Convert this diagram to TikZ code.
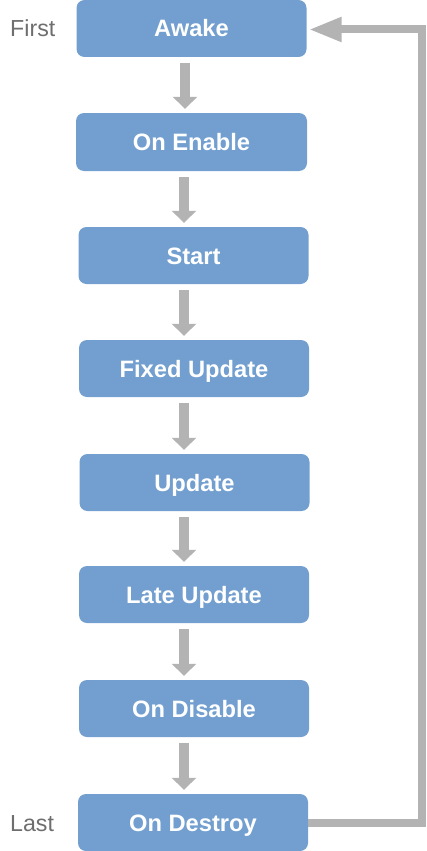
\documentclass[tikz,border=0pt]{standalone}
\usepackage{fontspec}
\setmainfont{Liberation Sans}
\usetikzlibrary{arrows.meta,calc}
\definecolor{boxblue}{HTML}{729FCF}
\definecolor{arrgray}{HTML}{B3B3B3}
\definecolor{labgray}{HTML}{6E6E6E}
\begin{document}
\begin{tikzpicture}[x=1pt,y=-1pt,
 stage/.style={draw=none, fill=boxblue, rounded corners=8pt, minimum width=230pt, minimum height=57pt, inner sep=0pt, text=white, font=\fontsize{23.7}{28}\selectfont\bfseries, text height=17pt, text depth=0pt},
 sidelabel/.style={anchor=west, inner sep=0pt, text=labgray, font=\fontsize{23.2}{28}\selectfont, text height=16.6pt, text depth=0pt},
 flow/.style={draw=arrgray, line width=10pt, -{Triangle[width=24pt,length=12pt]}},
 loopback/.style={draw=arrgray, line width=8pt, line join=miter, -{Triangle[width=23pt,length=33pt]}}]
\useasboundingbox (0,0) rectangle (426,851);
\coordinate (ax) at (184,0);
\coordinate (lx) at (422,0);
\node[stage] (awake) at (191.5,28.5) {Awake};
\node[stage, minimum width=231pt, minimum height=58pt] (enable) at (191.5,142) {On Enable};
\node[stage] (start) at (193.5,255.5) {Start};
\node[stage] (fixed) at (194,368.5) {Fixed Update};
\node[stage] (update) at (194.5,482.5) {Update};
\node[stage] (late) at (194,594.5) {Late Update};
\node[stage] (disable) at (194,708.5) {On Disable};
\node[stage] (destroy) at (193,822.5) {On Destroy};
\node[sidelabel] (first) at (10,28.5) {First};
\node[sidelabel] (last) at (10,823) {Last};
\draw[flow] ($(awake.south -| ax)+(1,6)$) -- ($(enable.north -| ax)+(1,-4)$);
\draw[flow] ($(enable.south -| ax)+(0,6)$) -- ($(start.north -| ax)+(0,-4)$);
\draw[flow] ($(start.south -| ax)+(0,6)$) -- ($(fixed.north -| ax)+(0,-4)$);
\draw[flow] ($(fixed.south -| ax)+(0,6)$) -- ($(update.north -| ax)+(0,-4)$);
\draw[flow] ($(update.south -| ax)+(0,6)$) -- ($(late.north -| ax)+(0,-4)$);
\draw[flow] ($(late.south -| ax)+(0,6)$) -- ($(disable.north -| ax)+(0,-4)$);
\draw[flow] ($(disable.south -| ax)+(0,6)$) -- ($(destroy.north -| ax)+(0,-4)$);
\draw[loopback] (destroy.east) -- (destroy.east -| lx) |- ($(awake.east)+(2,1)$);
\end{tikzpicture}
\end{document}
